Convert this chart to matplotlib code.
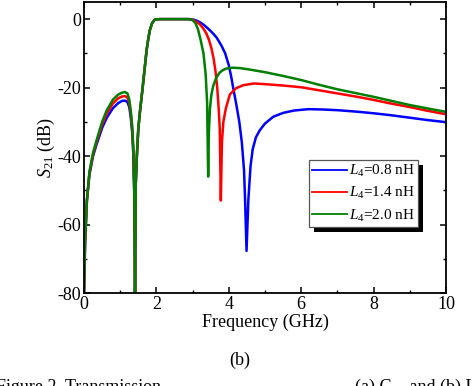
import matplotlib
matplotlib.use("Agg")
import matplotlib.pyplot as plt
from matplotlib.patches import Rectangle
from matplotlib.ticker import MultipleLocator

plt.rcParams['font.family'] = ['Liberation Serif', 'DejaVu Serif']
plt.rcParams['mathtext.fontset'] = 'custom'
plt.rcParams['mathtext.rm'] = 'Liberation Serif'
plt.rcParams['mathtext.it'] = 'Liberation Serif:italic'
plt.rcParams['axes.unicode_minus'] = False

# ---- data ----
freq_blue = [0, 0.03, 0.08, 0.15, 0.25, 0.35, 0.5, 0.63, 0.8, 0.95, 1.05, 1.13, 1.2, 1.25, 1.29, 1.33, 1.36,
             1.39, 1.41, 1.43, 1.46, 1.5, 1.55, 1.62, 1.68, 1.73, 1.78, 1.82, 1.88, 1.96, 2.1, 2.5, 2.9,
             3.0, 3.1, 3.2, 3.3, 3.4, 3.5, 3.6, 3.67, 3.8, 3.9, 4.0, 4.07, 4.12, 4.2, 4.29, 4.36, 4.42,
             4.45, 4.49, 4.54, 4.6, 4.66, 4.75, 4.86, 5.0, 5.23, 5.5, 5.8, 6.2, 6.6, 7.0, 7.5, 8.0, 8.5,
             9.0, 9.5, 10.0]
s21_blue = [-80, -65, -53, -45.5, -40, -36.5, -31.8, -28.8, -26, -24.5, -23.9, -23.8, -24.2, -25.7, -28.5, -33, -39,
            -52, -80, -48, -40, -32, -26.6, -20, -14, -9, -5.5, -3.2, -1.2, -0.1, 0, 0, 0,
            -0.1, -0.4, -0.9, -1.6, -2.5, -3.5, -4.6, -5.5, -7.8, -10, -13.5, -17, -20, -24.5, -30, -36, -44,
            -52.8, -67.7, -52.8, -43, -38, -34.5, -32.4, -30.5, -28.5, -27.4, -26.7, -26.3, -26.4, -26.6, -27, -27.5, -28.1,
            -28.8, -29.5, -30.1]

freq_red = [0, 0.03, 0.08, 0.15, 0.25, 0.35, 0.5, 0.63, 0.8, 0.95, 1.05, 1.13, 1.2, 1.25, 1.29, 1.33, 1.36,
            1.39, 1.41, 1.43, 1.46, 1.5, 1.55, 1.62, 1.68, 1.73, 1.78, 1.82, 1.88, 1.96, 2.1, 2.5, 2.9,
            3.0, 3.1, 3.2, 3.3, 3.38, 3.45, 3.52, 3.58, 3.63, 3.68, 3.72, 3.75, 3.78, 3.81, 3.85, 3.92,
            4.03, 4.2, 4.4, 4.7, 5.0, 5.5, 6.0, 6.5, 7.0, 7.5, 8.0, 8.5, 9.0, 9.5, 10.0]
s21_red = [-80, -65, -53, -45, -39.5, -35.8, -30.8, -27.6, -24.6, -23.1, -22.6, -22.5, -22.9, -24.5, -27.5, -32, -38,
           -51, -80, -48, -40, -32, -26.6, -20, -14, -9, -5.5, -3.2, -1.2, -0.1, 0, 0, 0,
           -0.2, -0.8, -1.5, -2.8, -4.2, -6, -8.5, -11.5, -15, -20, -26, -32, -53, -36, -30, -26,
           -22, -20.2, -19.3, -18.8, -19, -19.4, -19.9, -20.8, -21.7, -22.6, -23.6, -24.7, -25.7, -26.8, -27.8]

freq_green = [0, 0.03, 0.08, 0.15, 0.25, 0.35, 0.5, 0.63, 0.8, 0.95, 1.05, 1.13, 1.2, 1.25, 1.29, 1.33, 1.36,
              1.39, 1.41, 1.43, 1.46, 1.5, 1.55, 1.62, 1.68, 1.73, 1.78, 1.82, 1.88, 1.96, 2.1, 2.5, 2.9,
              3.0, 3.08, 3.15, 3.22, 3.3, 3.36, 3.4, 3.43, 3.45, 3.48, 3.52, 3.57, 3.65, 3.75, 3.85, 3.95,
              4.1, 4.3, 4.5, 5.0, 5.5, 6.0, 6.5, 7.0, 7.5, 8.0, 8.5, 9.0, 9.5, 10.0]
s21_green = [-80, -65, -53, -44.5, -39, -35.3, -30, -26.6, -23.5, -22, -21.5, -21.3, -21.7, -23.5, -26.6, -31, -37,
             -50, -80, -48, -40, -32, -26.6, -20, -14, -9, -5.5, -3.2, -1.2, -0.1, 0, 0, 0,
             -0.3, -1.2, -3, -6, -10, -16, -24, -46, -33, -26, -22, -19.5, -17.2, -15.6, -14.8, -14.4,
             -14.2, -14.3, -14.6, -15.5, -16.6, -17.8, -19.2, -20.5, -21.6, -22.7, -23.9, -25.1, -26.1, -27.1]

labels = [r'$L_4$=0.8 nH', r'$L_4$=1.4 nH', r'$L_4$=2.0 nH']
colors = ['#0000ff', '#ff0000', '#007f00']
x_ticks = [0, 2, 4, 6, 8, 10]
y_ticks = [-80, -60, -40, -20, 0]

# ---- figure ----
fig = plt.figure(figsize=(4.74, 3.86), dpi=100)
W, H = 474, 386
ax = fig.add_axes([84 / W, 1 - 293 / H, (446 - 84) / W, (293 - 2) / H])

series = [(freq_blue, s21_blue), (freq_red, s21_red), (freq_green, s21_green)]
for (f, s), c, lab in zip(series, colors, labels):
    ax.plot(f, s, color=c, lw=1.8, label=lab, solid_joinstyle='round')

ax.set_xlim(0, 10)
ax.set_ylim(-80, 5)
ax.set_xticks(x_ticks)
ax.set_yticks(y_ticks)
ax.xaxis.set_minor_locator(MultipleLocator(1))
ax.yaxis.set_minor_locator(MultipleLocator(10))
ax.tick_params(which='both', direction='in', top=True, right=True, labelsize=13, pad=2)
ax.tick_params(which='major', length=4, width=1.1)
ax.tick_params(which='minor', length=2.5, width=1.0)
for sp in ax.spines.values():
    sp.set_linewidth(1.3)

ax.set_xlabel('Frequency (GHz)', fontsize=13, labelpad=1)
ax.set_ylabel(r'$S_{21}$ (dB)', fontsize=13, labelpad=0)

leg = ax.legend(loc='upper left', bbox_to_anchor=((309 - 84) / 362, 1 - (160 - 2) / 291),
                fontsize=11, frameon=True, fancybox=False, edgecolor='#555555',
                facecolor='white', framealpha=1,
                handlelength=2.3, handletextpad=0.1, borderpad=0.2, labelspacing=0.4,
                borderaxespad=0)
leg.get_frame().set_linewidth(0.9)
for line in leg.get_lines():
    line.set_linewidth(1.3)

fig.text(240 / W, 1 - 360 / H, '(b)', ha='center', va='center', fontsize=13)
fig.text(-4 / W, 1 - 379 / H, 'Figure 2. Transmission', ha='left', va='top', fontsize=13)
fig.text(355 / W, 1 - 379 / H, '(a) C    and (b) L', ha='left', va='top', fontsize=13)

# black drop shadow behind legend
fig.canvas.draw()
bb = leg.get_window_extent().transformed(ax.transAxes.inverted())
dx, dy = 5 / 362, 5 / 291
ax.add_patch(Rectangle((bb.x0 + dx, bb.y0 - dy), bb.width, bb.height, transform=ax.transAxes,
                       facecolor='black', edgecolor='none', zorder=4.9, clip_on=False))

fig.savefig('out.png', dpi=100)
